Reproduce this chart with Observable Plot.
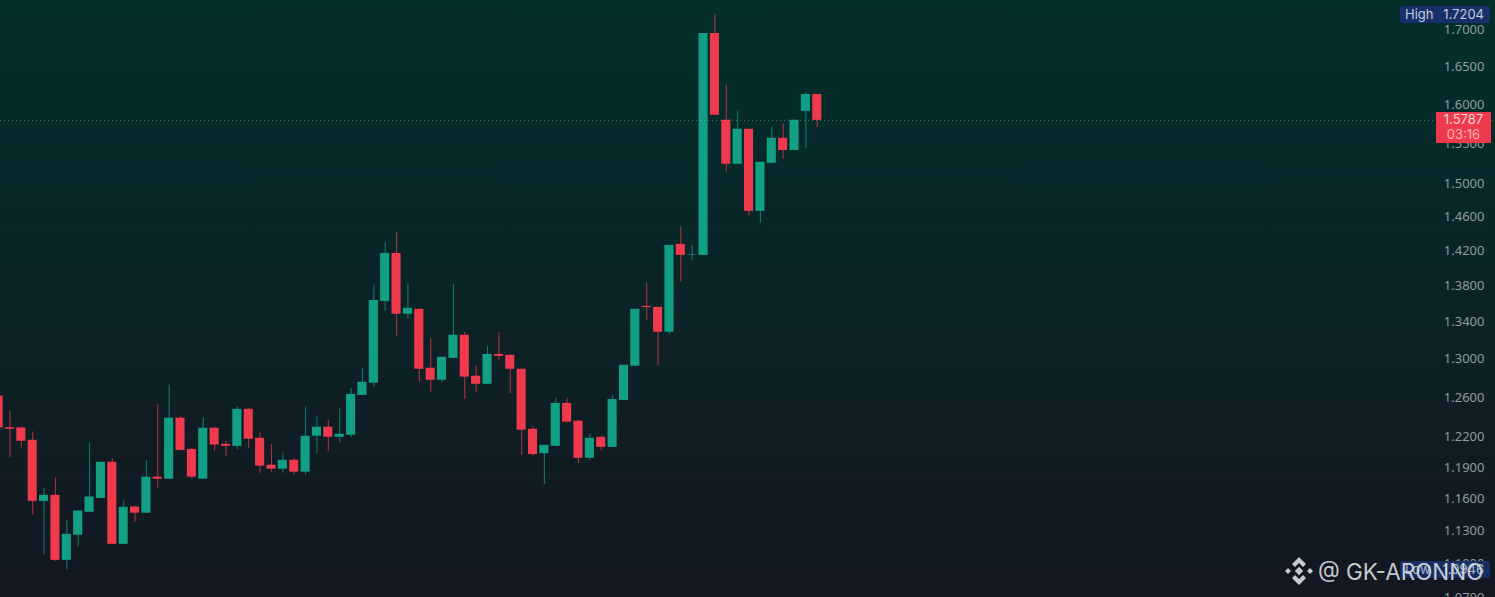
<!DOCTYPE html>
<html>
<head>
<meta charset="utf-8">
<script src="https://cdn.jsdelivr.net/npm/d3@7"></script>
<script src="https://cdn.jsdelivr.net/npm/@observablehq/plot@0.6"></script>
<style>
html,body{margin:0;padding:0;width:1495px;height:597px;overflow:hidden;background:linear-gradient(180deg,#032f2b 0%,#06292a 25%,#0c2226 55%,#101b23 80%,#131722 100%);font-family:Inter,Roboto,sans-serif}
#wrap{position:relative;width:1495px;height:597px;overflow:hidden}
#wrap svg{display:block;background:transparent}
.tag{position:absolute;font-size:13px;line-height:15px;white-space:nowrap;box-sizing:border-box}
.blue{left:1400px;width:90px;height:17px;background:#18306a;color:#c4cbdb;border-radius:2px}
.blue span{position:absolute;top:1px}
.blue .n{left:5px}.blue .v{right:6px}
#price{left:1436px;width:55px;height:31px;background:#ee3a4c;border-radius:1px;text-align:center;color:#f5d5d8}
#price div+div{color:#fbb4ba}
#mark{position:absolute;left:1285px;top:557px;height:28px;display:flex;align-items:center;color:#d9dddf;font-size:22.5px;font-weight:400;opacity:.9;white-space:nowrap}
#mark svg{margin-right:5px}
</style>
</head>
<body>
<div id="wrap"></div>
<script>
const opens=[1.2609,1.2288,1.2286,1.2163,1.1572,1.1629,1.1029,1.1257,1.1470,1.1600,1.1947,1.1174,1.1519,1.1461,1.1803,1.1783,1.2384,1.2073,1.1783,1.2283,1.2123,1.2103,1.2474,1.2183,1.1918,1.1880,1.1967,1.1851,1.2203,1.2293,1.2193,1.2213,1.2616,1.2742,1.3620,1.4164,1.3479,1.3533,1.2899,1.2773,1.3003,1.3250,1.2815,1.2731,1.3045,1.3035,1.2888,1.2273,1.2031,1.2103,1.2534,1.2354,1.1986,1.2193,1.2093,1.2564,1.2920,1.3566,1.3555,1.3283,1.4269,1.4141,1.4141,1.6945,1.5788,1.5232,1.5673,1.4658,1.5244,1.5558,1.5404,1.5903,1.6124];
const highs=[1.2616,1.2457,1.2293,1.2246,1.1694,1.1796,1.1396,1.1482,1.2130,1.1947,1.1983,1.1575,1.1525,1.1967,1.2521,1.2721,1.2404,1.2080,1.2387,1.2283,1.2153,1.2494,1.2484,1.2236,1.2123,1.2037,1.1986,1.2497,1.2397,1.2357,1.2477,1.2690,1.2896,1.3801,1.4292,1.4407,1.3812,1.3533,1.3214,1.3014,1.3812,1.3280,1.2923,1.3131,1.3280,1.3045,1.2888,1.2303,1.2113,1.2585,1.2585,1.2361,1.2223,1.2203,1.2616,1.2930,1.3533,1.3820,1.3555,1.4257,1.4472,1.4257,1.6945,1.7204,1.6244,1.5903,1.5673,1.5256,1.5698,1.5737,1.5788,1.6151,1.6124];
const lows=[1.2286,1.1993,1.2086,1.1442,1.1080,1.1020,1.0946,1.1155,1.1470,1.1600,1.1174,1.1174,1.1375,1.1461,1.1698,1.1783,1.2063,1.1783,1.1790,1.2053,1.2005,1.2073,1.2083,1.1841,1.1851,1.1841,1.1824,1.1824,1.2031,1.2050,1.2141,1.2190,1.2616,1.2697,1.3511,1.3243,1.3424,1.2752,1.2651,1.2752,1.3003,1.2574,1.2648,1.2731,1.2982,1.2634,1.2012,1.2005,1.1732,1.2103,1.2344,1.1935,1.1967,1.2063,1.2093,1.2564,1.2920,1.3413,1.2927,1.3258,1.3835,1.4085,1.4141,1.5852,1.5133,1.5232,1.4599,1.4517,1.5244,1.5293,1.5404,1.5430,1.5698];
const closes=[1.2286,1.2273,1.2153,1.1572,1.1629,1.1029,1.1266,1.1482,1.1613,1.1947,1.1174,1.1516,1.1461,1.1803,1.1783,1.2384,1.2063,1.1803,1.2283,1.2116,1.2103,1.2474,1.2173,1.1909,1.1880,1.1967,1.1851,1.2203,1.2293,1.2193,1.2223,1.2627,1.2752,1.3631,1.4164,1.3479,1.3544,1.2888,1.2773,1.3014,1.3250,1.2805,1.2731,1.3045,1.3024,1.2888,1.2263,1.2022,1.2113,1.2534,1.2344,1.1986,1.2183,1.2093,1.2574,1.2930,1.3533,1.3552,1.3283,1.4257,1.4141,1.4147,1.6945,1.5852,1.5232,1.5673,1.4658,1.5256,1.5558,1.5404,1.5788,1.6124,1.5787];
const priceTicks=[1.70,1.65,1.60,1.55,1.50,1.46,1.42,1.38,1.34,1.30,1.26,1.22,1.19,1.16,1.13,1.10,1.07];
const lastPrice=1.5787, highPrice=1.7204, lowPrice=1.0946, countdown="03:16", watermark="@ GK-ARONNO";

const candles=opens.map((o,i)=>({i,o,h:highs[i],l:lows[i],c:closes[i]}));
const up=candles.filter(d=>d.c>=d.o), down=candles.filter(d=>d.c<d.o);
const green="#11a084", red="#ee3a4c", half=0.4;
const fmt=d3.format(".4f");
const body=(data,fill)=>Plot.rectY(data,{x1:d=>d.i-half,x2:d=>d.i+half,y1:"o",y2:"c",fill});
const wick=(data,stroke)=>Plot.ruleX(data,{x:"i",y1:"l",y2:"h",stroke,strokeWidth:1.1,strokeOpacity:.7});

const chart=Plot.plot({
  width:1495,height:597,margin:0,
  style:{background:"transparent",overflow:"hidden"},
  x:{type:"linear",domain:[0.167,131.65],range:[0,1495],axis:null},
  y:{type:"log",domain:[1.07,1.7407],range:[597,0]},
  marks:[
    Plot.axisY(priceTicks,{anchor:"right",tickSize:0,tickPadding:0,label:null,tickFormat:fmt,textAnchor:"end",dx:-11,dy:0.5,fontSize:13,fill:"#8f9ca0"}),
    wick(up,green),wick(down,red),
    body(up,green),body(down,red),
    Plot.ruleY([lastPrice],{stroke:"#a3b0a8",strokeOpacity:.55,strokeDasharray:"1 3",strokeWidth:1})
  ]
});
const wrap=document.getElementById("wrap");
wrap.appendChild(chart);
const yS=chart.scale("y");
function tag(cls,id,html,top){const d=document.createElement("div");d.className="tag "+cls;if(id)d.id=id;d.innerHTML=html;d.style.top=top+"px";wrap.appendChild(d);return d;}
tag("blue","",`<span class="n">High</span><span class="v">${fmt(highPrice)}</span>`,yS.apply(highPrice)-8);
tag("blue","",`<span class="n">Low</span><span class="v">${fmt(lowPrice)}</span>`,yS.apply(lowPrice)-8).style.opacity=.9;
tag("","price",`<div>${fmt(lastPrice)}</div><div>${countdown}</div>`,yS.apply(lastPrice)-8);
const m=document.createElement("div");m.id="mark";
m.innerHTML=`<svg width="28" height="28" viewBox="0 0 28 28" fill="#d9dddf"><path d="M14 0l7 7-3 3-4-4-4 4-3-3z"/><path d="M14 28l-7-7 3-3 4 4 4-4 3 3z"/><path d="M0 14l3-3 3 3-3 3z"/><path d="M22 14l3-3 3 3-3 3z"/><path d="M14 9.8l4.2 4.2-4.2 4.2-4.2-4.2z"/></svg><span>${watermark}</span>`;
wrap.appendChild(m);
</script>
</body>
</html>
